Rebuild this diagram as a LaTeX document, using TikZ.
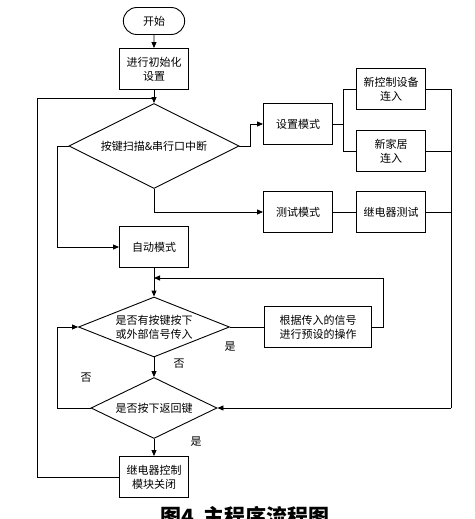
\documentclass[tikz,border=0pt]{standalone}
\usepackage{fontspec}
\setmainfont{Noto Sans CJK SC}
\usetikzlibrary{shapes.geometric,shapes.misc,arrows.meta}
\tikzset{
  box/.style={draw,line width=0.9pt,minimum width=69pt,minimum height=41pt,inner sep=0pt,align=center,font=\fontsize{11}{14}\selectfont},
  decide/.style={draw,diamond,line width=0.9pt,inner sep=0pt,align=center,font=\fontsize{11}{14}\selectfont},
  flow/.style={line width=0.9pt,-{Triangle[length=6pt,width=5pt]}},
  wire/.style={line width=0.9pt},
  tag/.style={font=\fontsize{11}{13}\selectfont}
}
\begin{document}
\begin{tikzpicture}[x=1pt,y=-1pt]
\useasboundingbox[fill=white] (0,0) rectangle (474,519);

\node[draw,rounded rectangle,line width=0.9pt,minimum width=68pt,minimum height=27pt,font=\fontsize{11}{14}\selectfont] (start) at (154,21) {开始};
\node[box] (init) at (154,69) {进行初始化\\设置};
\node[decide,minimum width=170pt,minimum height=85pt,aspect=2] (scan) at (154,146) {按键扫描\&串行口中断};

\node[box] (setmode) at (298,124) {设置模式};
\node[box] (newdev) at (391,89) {新控制设备\\连入};
\node[box] (newhome) at (391,151) {新家居\\连入};
\node[box] (testmode) at (298,212) {测试模式};
\node[box] (relaytest) at (391,212) {继电器测试};

\node[box] (automode) at (154,247) {自动模式};
\node[decide,minimum width=151pt,minimum height=60pt,aspect=2.5] (keyin) at (154,327) {是否有按键按下\\或外部信号传入};
\node[box,minimum width=107pt] (doop) at (318,327) {根据传入的信号\\进行预设的操作};
\node[decide,minimum width=126pt,minimum height=61pt,aspect=2] (back) at (154,408) {是否按下返回键};
\node[box] (relayoff) at (154,477) {继电器控制\\模块关闭};

\node[tag] (yes1) at (230,347) {是};
\node[tag] (no1) at (179,364) {否};
\node[tag] (no2) at (86,378) {否};
\node[tag] (yes2) at (196,442) {是};

\coordinate (join1) at (154,98);
\coordinate (join2) at (154,278);
\coordinate (rtop) at (451,89);
\coordinate (rbot) at (451,408);

\draw[flow] (start) -- (init);
\draw[flow] (init) -- (scan.north);
\draw[wire] (relayoff.west) -- ++(-82,0) |- (join1);

\draw[flow] (scan.east) -- ++(11,0) |- (setmode.west);
\draw[wire] (setmode.east) -- ++(10,0) |- (newdev.west);
\draw[wire] (setmode.east) -- ++(10,0) |- (newhome.west);
\draw[flow] (scan.south) |- (testmode.west);
\draw[wire] (testmode) -- (relaytest);

\draw[wire] (newdev.east) -- (rtop) -- (rbot);
\draw[wire] (newhome.east) -- (newhome.east -| rtop);
\draw[wire] (relaytest.east) -- (relaytest.east -| rtop);
\draw[flow] (rbot) -- (back.east);

\draw[flow] (scan.west) -- ++(-11,0) |- (automode.west);
\draw[flow] (automode) -- (keyin.north);
\draw[wire] (keyin.east) -- (doop.west);
\draw[flow] (doop.east) -- ++(11,0) |- (join2);
\draw[flow] (keyin.south) -- (back.north);
\draw[flow] (back.west) -- ++(-33,0) |- (keyin.west);
\draw[flow] (back.south) -- (relayoff.north);

\node[font=\fontsize{21}{24}\selectfont\bfseries] (caption) at (245,516) {图4\ \ 主程序流程图};
\end{tikzpicture}
\end{document}
